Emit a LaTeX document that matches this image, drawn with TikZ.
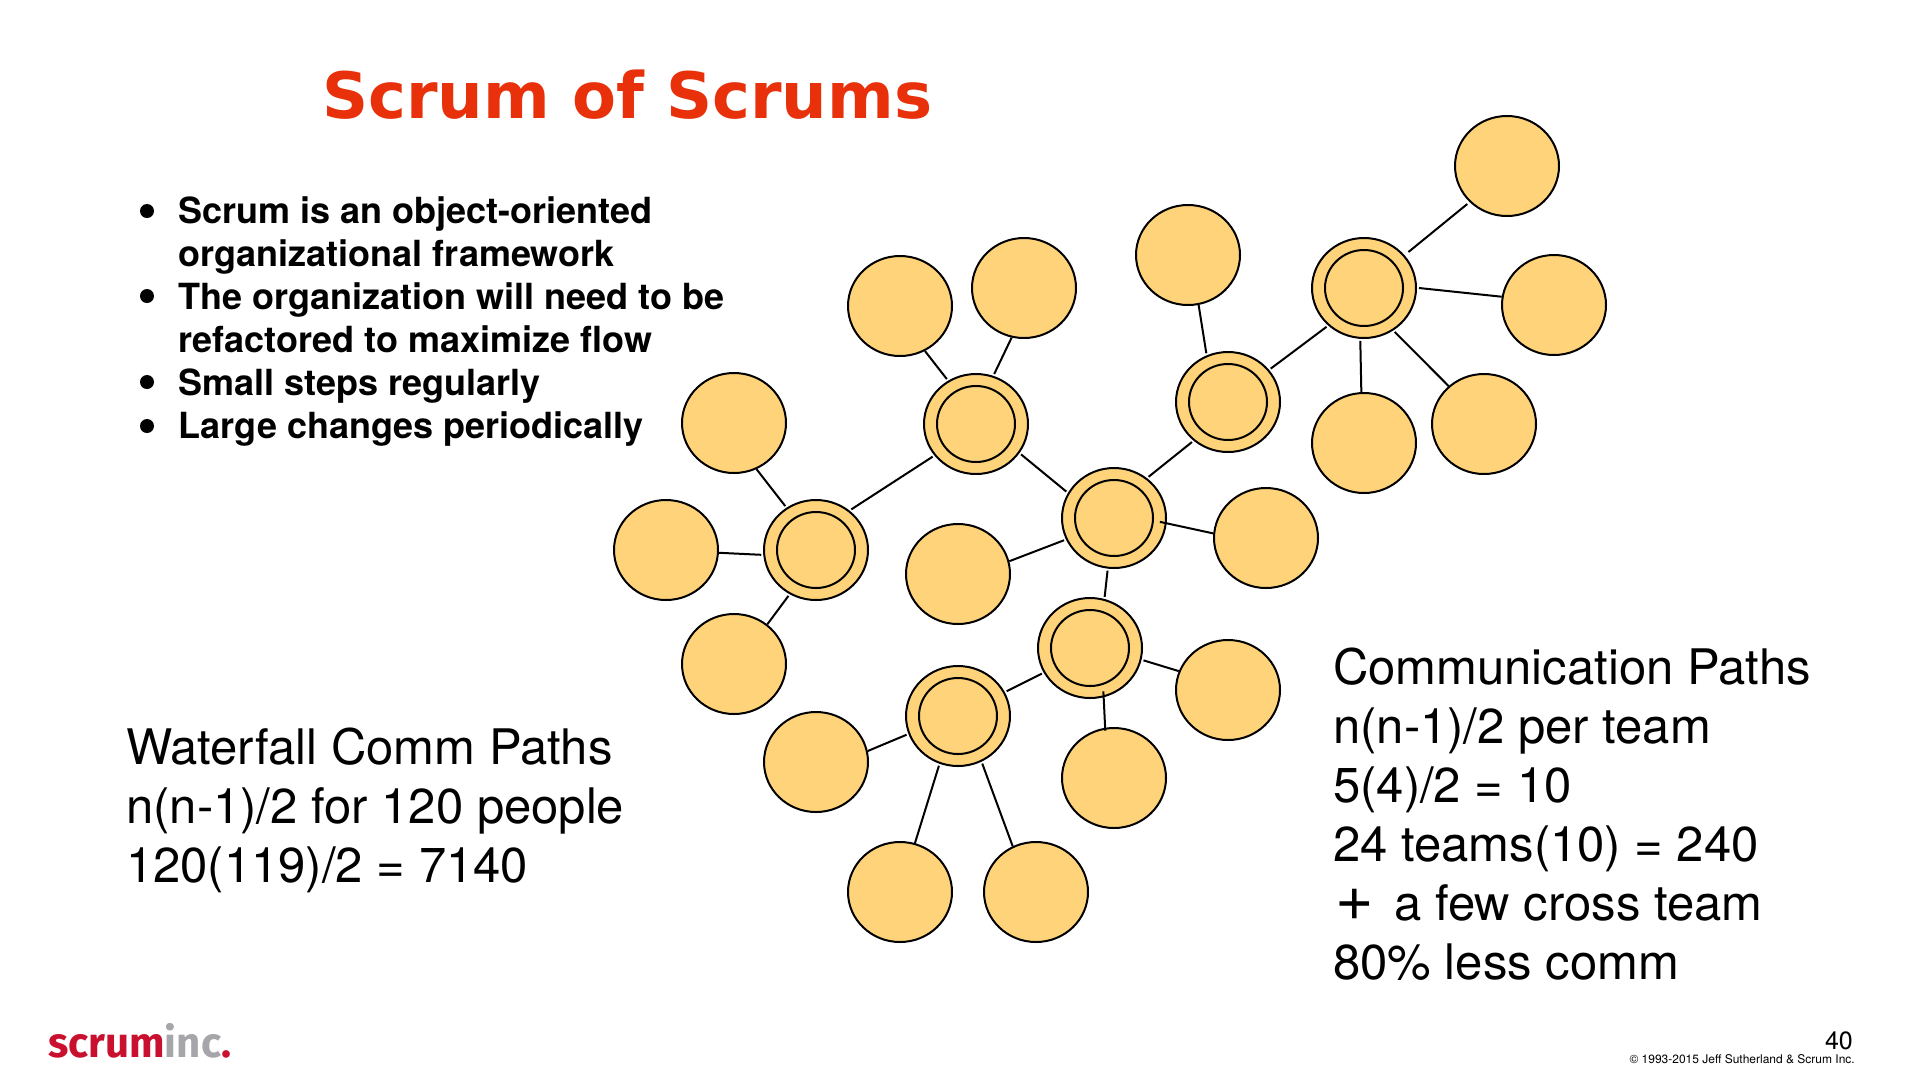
\documentclass[tikz,border=0pt]{standalone}
\usepackage{fontspec}
\setmainfont{TeX Gyre Heros}
\newfontfamily\titlefont{DejaVu Sans}
\newfontfamily\logofont{Fira Sans}
\usetikzlibrary{shapes.geometric}
\definecolor{teamfill}{HTML}{FFD37A}
\definecolor{titlered}{HTML}{E8300A}
\definecolor{logored}{HTML}{C9102E}
\definecolor{logogrey}{HTML}{A5A5AA}
\tikzset{
  leaf/.style={ellipse,draw=black,fill=teamfill,line width=2pt,minimum width=104pt,minimum height=100pt,inner sep=0pt},
  hub/.style={leaf,outer sep=3pt},
  hubcore/.style={ellipse,draw=black,line width=2pt,minimum width=78pt,minimum height=76pt,inner sep=0pt},
  link/.style={line width=2pt},
  bigtext/.style={inner sep=0pt,anchor=north west,align=left,font=\fontsize{49}{59}\selectfont}
}
\begin{document}
\begin{tikzpicture}[x=1pt,y=-1pt]
\useasboundingbox (0,0) rectangle (1920,1080);
\node[inner sep=0pt,anchor=base west,text=titlered,font=\titlefont\bfseries\fontsize{64}{70}\selectfont] (title) at (322,118) {Scrum of Scrums};
\node[inner sep=0pt,anchor=north west,align=left,font=\bfseries\fontsize{36}{43}\selectfont] (points) at (178.5,196) {Scrum is an object-oriented\\organizational framework\\The organization will need to be\\refactored to maximize flow\\Small steps regularly\\Large changes periodically};
\foreach \y in {211,296,382,426}
	\fill (147,\y) circle (7pt);
\node[bigtext] (waterfall) at (126,728) {Waterfall Comm Paths\\n(n-1)/2 for 120 people\\120(119)/2 = 7140};
\node[bigtext] (paths) at (1333,648) {Communication Paths\\n(n-1)/2 per team\\5(4)/2 = 10\\24 teams(10) = 240\\\hspace*{2pt}{\fontsize{66}{59}\selectfont+}\ \hspace*{7pt}a few cross team\\80\% less comm};
\foreach \n/\x/\y in {la/1507/166,lb/1554/305,lc/1484/424,ld/1364/443,le/1188/255,lf/1024/288,lg/900/306,lh/734/423,li/666/550,lj/734/664,lk/958/574,ll/1266/538,lm/1228/690,ln/1114/778,lo/816/762,lp/900/892,lq/1036/892}
	\node[leaf] (\n) at (\x,\y) {};
\foreach \n/\x/\y in {ha/1364/288,hb/1228/402,hc/976/424,hd/816/550,he/1114/518,hf/1090/648,hg/958/716}{
	\node[hub] (\n) at (\x,\y) {};
	\node[hubcore] (\n core) at (\n) {};
}
\foreach \a/\p/\b/\q in {ha/0/lb/171,ha/266/ld/93,ha/305/lc/133,ha/226/hb/38,le/282/hb/114,hb/228/he/50,hc/326/he/151,lg/299/hc/123,lf/256/hc/70,hd/49/hc/217,lh/296/hd/125,li/357/hd/185,lj/50/hd/239,lk/14/he/204,he/263/hf/74,hf/347/lm/159,hf/208/hg/27,hg/200/lo/12,hg/249/lp/73,hg/297/lq/117}
	\draw[link] (\a.\p) -- (\b.\q);
\draw[link,shorten <=3pt,shorten >=3pt] (la.224) -- (ha.39);
\draw[link,shorten >=-9pt] (ll.175) -- (he.354);
\draw[link,shorten <=-3pt,shorten >=-8pt] (ln.100) -- (hf.285);
\node[inner sep=0pt,anchor=base west,font=\logofont\bfseries\fontsize{42}{45}\selectfont] (logo) at (48,1057) {\textcolor{logored}{scrum}\textcolor{logogrey}{inc}\textcolor{logored}{.}};
\node[inner sep=0pt,anchor=base east,font=\fontsize{25}{28}\selectfont] (pagenum) at (1853,1049) {40};
\node[inner sep=0pt,anchor=base east,font=\fontsize{12}{14}\selectfont] (copyright) at (1855,1063) {\textcopyright{} 1993-2015 Jeff Sutherland \& Scrum Inc.};
\end{tikzpicture}
\end{document}
